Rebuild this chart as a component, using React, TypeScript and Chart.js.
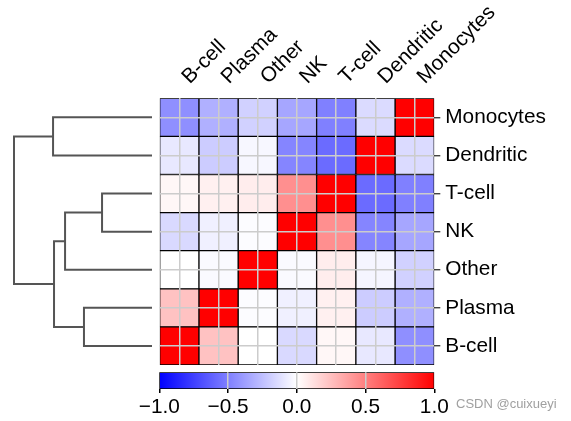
import React, { useEffect, useRef } from "react";
import { Chart, registerables } from "chart.js";
Chart.register(...registerables);

// Heatmap columns (left to right) and rows (top to bottom)
const columns = ["B-cell", "Plasma", "Other", "NK", "T-cell", "Dendritic", "Monocytes"];
const rows = ["Monocytes", "Dendritic", "T-cell", "NK", "Other", "Plasma", "B-cell"];

// Correlation values for each row, in column order
const rowMonocytes = [-0.44, -0.31, -0.18, -0.35, -0.5, -0.14, 1.0];
const rowDendritic = [-0.09, -0.2, -0.03, -0.48, -0.58, 1.0, -0.14];
const rowTcell = [0.03, 0.06, 0.07, 0.44, 1.0, -0.58, -0.5];
const rowNK = [-0.15, -0.06, -0.01, 1.0, 0.44, -0.48, -0.35];
const rowOther = [0.0, -0.02, 1.0, -0.02, 0.07, -0.04, -0.18];
const rowPlasma = [0.24, 1.0, -0.01, -0.06, 0.06, -0.2, -0.31];
const rowBcell = [1.0, 0.24, 0.0, -0.15, 0.03, -0.09, -0.44];
const corr = [rowMonocytes, rowDendritic, rowTcell, rowNK, rowOther, rowPlasma, rowBcell];

// Dendrogram linkage (leaf ids = row indices, new clusters numbered from 7)
const linkLeft = [2, 5, 7, 9, 0, 11];
const linkRight = [3, 6, 4, 8, 1, 10];
const linkHeight = [0.362, 0.493, 0.63, 0.71, 0.717, 1.0];

// Colorbar ticks
const colorbarTicks = [-1, -0.5, 0, 0.5, 1];

function bwr(v: number): string {
  const t = Math.max(0, Math.min(1, (v + 1) / 2));
  if (t < 0.5) {
    const c = Math.round(2 * t * 255);
    return `rgb(${c},${c},255)`;
  }
  const c = Math.round((2 - 2 * t) * 255);
  return `rgb(255,${c},${c})`;
}

const W = 571;
const H = 421;
const font = { family: "'Liberation Sans', Arial, sans-serif", size: 20.8 };

export default function App() {
  const heatRef = useRef<HTMLCanvasElement>(null);
  const barRef = useRef<HTMLCanvasElement>(null);
  const dendRef = useRef<HTMLCanvasElement>(null);

  useEffect(() => {
    const heat = new Chart(heatRef.current!, {
      type: "bar",
      data: {
        labels: rows,
        datasets: columns.map((c, j) => ({
          label: c,
          data: rows.map(() => [j, j + 1]),
          backgroundColor: rows.map((_, r) => bwr(corr[r][j])),
          borderColor: "#000",
          borderWidth: 1,
          borderSkipped: false,
          categoryPercentage: 1,
          barPercentage: 1,
          grouped: false,
        })),
      } as any,
      options: {
        indexAxis: "y",
        responsive: false,
        animation: false,
        layout: { padding: { left: 159.7, right: 0, top: 0, bottom: 56 } },
        plugins: { legend: { display: false }, tooltip: { enabled: false } },
        scales: {
          x: {
            type: "linear",
            position: "top",
            min: 0,
            max: 7,
            afterBuildTicks: (s: any) => {
              s.ticks = columns.map((_, i) => ({ value: i + 0.5 }));
            },
            afterFit: (s: any) => {
              s.height = 98.3;
            },
            grid: { z: 1, color: "#cccccc", lineWidth: 1.5, drawTicks: false },
            border: { display: false },
            ticks: {
              autoSkip: false,
              minRotation: 45,
              maxRotation: 45,
              padding: 9,
              labelOffset: 24,
              color: "#000",
              font,
              callback: (_v: any, i: number) => columns[i],
            },
          },
          y: {
            type: "category",
            position: "right",
            offset: true,
            afterFit: (s: any) => {
              s.width = 136.7;
            },
            grid: {
              z: 1,
              offset: false,
              color: "#cccccc",
              lineWidth: 1.5,
              drawTicks: true,
              tickLength: 6,
              tickColor: "#222",
              tickWidth: 1.2,
            },
            border: { display: false },
            ticks: { padding: 5, color: "#000", font },
          },
        },
      } as any,
    });

    const bar = new Chart(barRef.current!, {
      type: "bar",
      data: {
        labels: [""],
        datasets: [
          {
            data: [[-1, 1]],
            backgroundColor: (ctx: any) => {
              const chart = ctx.chart;
              const xs = chart.scales.x;
              if (!xs || !chart.chartArea) return "#fff";
              const g = chart.ctx.createLinearGradient(xs.getPixelForValue(-1), 0, xs.getPixelForValue(1), 0);
              g.addColorStop(0, bwr(-1));
              g.addColorStop(0.5, bwr(0));
              g.addColorStop(1, bwr(1));
              return g;
            },
            borderColor: "#000",
            borderWidth: 1,
            borderSkipped: false,
            categoryPercentage: 1,
            barPercentage: 1,
          },
        ],
      } as any,
      options: {
        indexAxis: "y",
        responsive: false,
        animation: false,
        layout: { padding: { left: 159.3, right: 136.7, top: 372.3, bottom: 0 } },
        plugins: { legend: { display: false }, tooltip: { enabled: false } },
        scales: {
          x: {
            type: "linear",
            position: "bottom",
            min: -1,
            max: 1,
            afterBuildTicks: (s: any) => {
              s.ticks = colorbarTicks.map((v) => ({ value: v }));
            },
            afterFit: (s: any) => {
              s.height = H - 389;
            },
            grid: {
              z: 1,
              color: (c: any) => (c.tick && Math.abs(c.tick.value) === 1 ? "rgba(0,0,0,0)" : "#cccccc"),
              lineWidth: 1.5,
              drawTicks: true,
              tickLength: 4,
              tickColor: "#000",
            },
            border: { display: false },
            ticks: {
              padding: 2,
              color: "#000",
              font,
              callback: (v: any) => (v < 0 ? "\u2212" : "") + Math.abs(v).toFixed(1),
            },
          },
          y: { display: false },
        },
      } as any,
    });

    const pos: { x: number; y: number }[] = rows.map((_, i) => ({ x: 0, y: i + 0.5 }));
    const dendSets = linkLeft.map((l, k) => {
      const a = pos[l];
      const b = pos[linkRight[k]];
      const h = linkHeight[k];
      pos.push({ x: h, y: (a.y + b.y) / 2 });
      return {
        data: [
          { x: a.x, y: a.y },
          { x: h, y: a.y },
          { x: h, y: b.y },
          { x: b.x, y: b.y },
        ],
        showLine: true,
        borderColor: "#555555",
        borderWidth: 2,
        pointRadius: 0,
        clip: false,
        fill: false,
        tension: 0,
      };
    });
    const dend = new Chart(dendRef.current!, {
      type: "scatter",
      data: { datasets: dendSets } as any,
      options: {
        responsive: false,
        animation: false,
        layout: { padding: { left: 14, right: W - 152, top: 98.3, bottom: H - 365 } },
        plugins: { legend: { display: false }, tooltip: { enabled: false } },
        scales: {
          x: { type: "linear", min: 0, max: 1, reverse: true, display: false },
          y: { type: "linear", min: 0, max: 7, reverse: true, display: false },
        },
      } as any,
    });

    return () => {
      heat.destroy();
      bar.destroy();
      dend.destroy();
    };
  }, []);

  const cstyle: React.CSSProperties = { position: "absolute", left: 0, top: 0, display: "block" };
  return (
    <div style={{ position: "fixed", left: 0, top: 0, width: W, height: H, background: "#fff", overflow: "hidden" }}>
      <canvas ref={heatRef} width={W} height={H} style={cstyle} />
      <canvas ref={barRef} width={W} height={H} style={cstyle} />
      <canvas ref={dendRef} width={W} height={H} style={cstyle} />
      <div
        style={{
          position: "absolute",
          left: 456,
          top: 396,
          font: "13px 'Liberation Sans', Arial, sans-serif",
          color: "#a0a0a0",
          whiteSpace: "nowrap",
        }}
      >
        CSDN @cuixueyi
      </div>
    </div>
  );
}
